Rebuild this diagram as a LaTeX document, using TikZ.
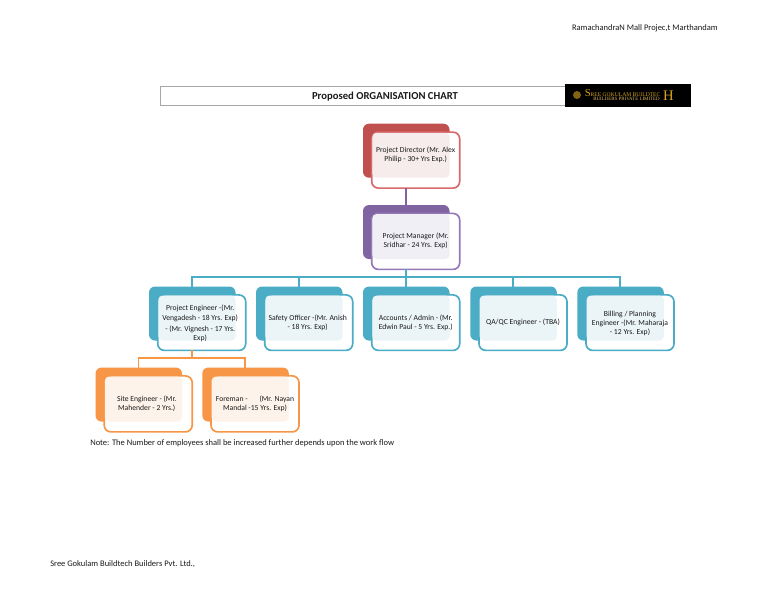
\documentclass[tikz,border=0pt]{standalone}
\usepackage{fontspec}
\setmainfont{Carlito}
\newfontfamily\logofont{Liberation Serif}
\definecolor{redback}{HTML}{C0504D}
\definecolor{redline}{HTML}{D9696A}
\definecolor{redfill}{HTML}{F7ECEC}
\definecolor{purpback}{HTML}{8064A2}
\definecolor{purpline}{HTML}{9579B8}
\definecolor{purpfill}{HTML}{F1EFF6}
\definecolor{tealback}{HTML}{4BACC6}
\definecolor{tealfill}{HTML}{EBF5F8}
\definecolor{orangeback}{HTML}{F79646}
\definecolor{orangefill}{HTML}{FEF3EA}
\definecolor{gold}{HTML}{D9A520}
\definecolor{txt}{HTML}{1A1A1A}
\tikzset{
  x=0.75pt,y=-0.75pt,
  boxtext/.style={font=\fontsize{5.75pt}{6.9pt}\selectfont,text=txt,align=center,inner sep=0pt},
  plain/.style={font=\fontsize{6.37pt}{7.5pt}\selectfont,text=txt,inner sep=0pt},
  link/.style={line width=1.25pt},
}
% #1 colour stem, #2 name, #3 x of back-left, #4 y of back-top, #5 text shift, #6 front height, #7 text, #8 line colour
\newcommand{\orgbox}[8]{%
  \fill[#1back,rounded corners=4.5pt] (#3,#4) rectangle ++(86.5,54);
  \draw[#8,line width=1.25pt,rounded corners=5pt,fill=white] (#3+8.7,#4+8.4) rectangle ++(88,#6);
  \fill[#1fill,rounded corners=3pt] (#3+9.4,#4+9.1) rectangle (#3+86.5,#4+54);
  \node[boxtext,shift={(#5)}] (#2) at (#3+52.7,#4+8.4+#6/2) {#7};
  \coordinate (#2top) at (#3+43,#4);
  \coordinate (#2bot) at (#3+43,#4+8.4+#6);
}
\begin{document}
\begin{tikzpicture}
\useasboundingbox (0,0) rectangle (768,594);
\fill[white] (0,0) rectangle (768,594);
\node[plain,anchor=east] (hdr) at (718,28) {RamachandraN Mall Projec,t Marthandam};
\node[draw=black!35,line width=0.6pt,minimum width=405*0.75pt,minimum height=19.4*0.75pt,anchor=west,inner sep=0pt] (title) at (160,96) {};
\node[font=\fontsize{8pt}{9pt}\selectfont\bfseries,text=txt,inner sep=0pt] (titletext) at (385,96.3) {Proposed ORGANISATION CHART};
\fill[black] (565,84) rectangle (691,107.3);
\node[inner sep=0pt,text=gold,font=\logofont\fontsize{4.2pt}{4pt}\selectfont,anchor=west] (logo1) at (584.5,92.7) {\fontsize{8pt}{8pt}\selectfont S\fontsize{4.2pt}{4pt}\selectfont REE GOKULAM BUILDTEC};
\node[inner sep=0pt,text=gold!70!white,font=\logofont\fontsize{3.7pt}{3pt}\selectfont,anchor=west] (logo2) at (593,99.3) {BUILDERS PRIVATE LIMITED};
\node[inner sep=0pt,text=gold,font=\logofont\fontsize{11pt}{11pt}\selectfont] (logoh) at (668.5,95.5) {H};
\fill[gold!60!black] (577,95) circle (3pt);

\orgbox{orange}{se}{95.5}{367.5}{-1.5,0}{56}{Site Engineer - (Mr.\\[-0.6pt]Mahender - 2 Yrs.)}{orangeback}
\orgbox{orange}{fm}{202.3}{367.5}{0,0}{56}{Foreman - \hspace{1.1em} (Mr. Nayan\\[-0.6pt]Mandal -15 Yrs. Exp)}{orangeback}

\orgbox{red}{pd}{363}{123.7}{0,-5.5}{56}{Project Director (Mr. Alex\\Philip - 30+ Yrs Exp.)}{redline}
\orgbox{purp}{pm}{363}{205}{0,-0.5}{56}{Project Manager (Mr.\\Sridhar - 24 Yrs. Exp)}{purpline}
\orgbox{teal}{pe}{149}{286.5}{-1.5,0.7}{55.5}{Project Engineer -(Mr.\\Vengadesh - 18 Yrs. Exp)\\[1.3pt]- (Mr. Vignesh - 17 Yrs.\\Exp)}{tealback}
\orgbox{teal}{so}{256}{286.5}{-1,0}{55.5}{Safety Officer -(Mr. Anish\\- 18 Yrs. Exp)}{tealback}
\orgbox{teal}{aa}{363}{286.5}{0,0}{55.5}{Accounts / Admin - (Mr.\\Edwin Paul - 5 Yrs. Exp.)}{tealback}
\orgbox{teal}{qa}{470.3}{286.5}{0,0}{55.5}{QA/QC Engineer - (TBA)}{tealback}
\orgbox{teal}{bp}{577.3}{286.5}{0,0.5}{55.5}{Billing / Planning\\Engineer -(Mr. Maharaja\\- 12 Yrs. Exp)}{tealback}

\draw[link,purpback] (pdbot) -- (pmtop);
\coordinate (bus) at (0,276.7);
\draw[link,tealback] (pmbot) -- (pmbot |- bus);
\draw[link,tealback] (petop) -- (petop |- bus) -- (bptop |- bus) -- (bptop);
\draw[link,tealback] (sotop) -- (sotop |- bus);
\draw[link,tealback] (aatop) -- (aatop |- bus);
\draw[link,tealback] (qatop) -- (qatop |- bus);
\coordinate (obus) at (0,358.3);
\draw[link,orangeback] (pebot) -- (pebot |- obus);
\draw[link,orangeback] (setop) -- (setop |- obus) -- (fmtop |- obus) -- (fmtop);

\node[plain,anchor=west] (note) at (90,443.7) {Note: The Number of employees shall be increased further depends upon the work flow};
\node[plain,anchor=west] (foot) at (50,564.5) {Sree Gokulam Buildtech Builders Pvt. Ltd.,};
\end{tikzpicture}
\end{document}
